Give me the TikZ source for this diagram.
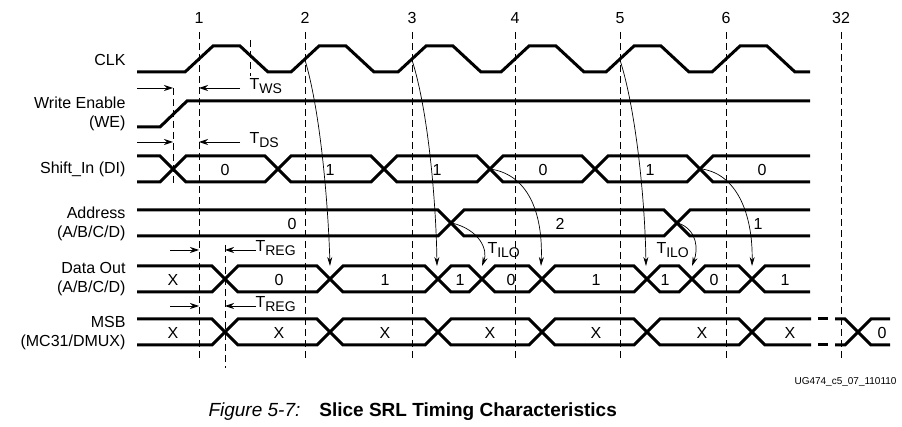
\documentclass[tikz,border=0pt]{standalone}
\usepackage{fontspec}
\setmainfont{Liberation Sans}
\usetikzlibrary{arrows.meta}
\newcommand{\hw}{13}
\newcommand{\segb}[4]{\draw[sig] (#1,{(#3+#4)/2}) -- (#1+\hw,#3) -- (#2-\hw,#3) -- (#2,{(#3+#4)/2}) -- (#2-\hw,#4) -- (#1+\hw,#4) -- cycle;}
\newcommand{\lsegb}[4]{\draw[sig] (#1,#3) -- (#2-\hw,#3) -- (#2,{(#3+#4)/2}) -- (#2-\hw,#4) -- (#1,#4);}
\newcommand{\rsegb}[4]{\draw[sig] (#2,#3) -- (#1+\hw,#3) -- (#1,{(#3+#4)/2}) -- (#1+\hw,#4) -- (#2,#4);}
\newcommand{\tsub}[1]{T\raisebox{-4pt}{\fontsize{14}{16}\selectfont #1}}
\tikzset{
 sig/.style={line width=3pt, line join=miter},
 grid/.style={line width=0.9pt, dash pattern=on 7pt off 4pt},
 lbl/.style={anchor=east, font=\fontsize{16}{19}\selectfont, align=right},
 val/.style={font=\fontsize{16}{18}\selectfont},
 num/.style={font=\fontsize{16}{18}\selectfont},
 tarr/.style={-{Stealth[length=9pt,width=6pt]}, line width=0.9pt},
 carr/.style={-{Stealth[length=9pt,width=5pt]}, line width=0.7pt},
}
\begin{document}
\begin{tikzpicture}[x=1pt,y=-1pt]
\useasboundingbox (0,0) rectangle (902,427);
% grid
\foreach \xx/\n in {199/1,305/2,412/3,515/4,620/5,726/6,841/32}{
  \node[num] (n\n) at (\xx,18) {\n};
  \draw[grid] (\xx,32) -- (\xx,358);}
\draw[grid] (173,88) -- (173,186);
\draw[grid] (225,245) -- (225,368);
\draw[grid] (250,40) -- (250,76);
% labels
\node[lbl] (lclk) at (129,60) {CLK};
\node[lbl] (lwe) at (129,114) {Write Enable\\(WE)};
\node[lbl] (ldi) at (129,169) {Shift\_In (DI)};
\node[lbl] (lad) at (129,224) {Address\\(A/B/C/D)};
\node[lbl] (ldo) at (129,279) {Data Out\\(A/B/C/D)};
\node[lbl] (lmsb) at (129,333) {MSB\\(MC31/DMUX)};
% CLK
\draw[sig] (137,72) -- (185,72) -- (213,46) -- (240,46) -- (268,72) -- (291,72)
 -- (319,46) -- (346,46) -- (374,72) -- (398,72)
 -- (426,46) -- (453,46) -- (481,72) -- (501,72)
 -- (529,46) -- (556,46) -- (584,72) -- (606,72)
 -- (634,46) -- (661,46) -- (689,72) -- (712,72)
 -- (740,46) -- (767,46) -- (795,72) -- (810,72);
% WE
\draw[sig] (137,127) -- (160,127) -- (187,101) -- (810,101);
% timing arrows
\draw[tarr] (137,88) -- (173,88);
\draw[tarr] (240,88) -- (199,88);
\node[val,anchor=west] (tws) at (246,86) {\tsub{WS}};
\draw[tarr] (137,142) -- (173,142);
\draw[tarr] (240,142) -- (199,142);
\node[val,anchor=west] (tds) at (246,140) {\tsub{DS}};
\draw[tarr] (170,250) -- (199,250);
\draw[tarr] (256,250) -- (225,250);
\node[val,anchor=west] (treg1) at (252,248) {\tsub{REG}};
\draw[tarr] (170,306) -- (199,306);
\draw[tarr] (256,306) -- (225,306);
\node[val,anchor=west] (treg2) at (252,304) {\tsub{REG}};
% DI
\lsegb{137}{173}{156}{182}
\segb{173}{278}{156}{182}\segb{278}{384}{156}{182}\segb{384}{490}{156}{182}
\segb{490}{595}{156}{182}\segb{595}{700}{156}{182}
\rsegb{700}{810}{156}{182}
\foreach \xx/\v in {225/0,330/1,437/1,543/0,650/1,762/0}{\node[val] at (\xx,170) {\v};}
% Address
\lsegb{137}{451}{210}{236}\segb{451}{677}{210}{236}\rsegb{677}{810}{210}{236}
\node[val] (a0) at (292,224) {0};
\node[val] (a2) at (560,224) {2};
\node[val] (a1) at (758,224) {1};
% Data out
\lsegb{137}{225}{266}{292}
\segb{225}{330}{266}{292}\segb{330}{438}{266}{292}\segb{438}{482}{266}{292}
\segb{482}{542}{266}{292}\segb{542}{647}{266}{292}\segb{647}{692}{266}{292}
\segb{692}{752}{266}{292}
\rsegb{752}{810}{266}{292}
\foreach \xx/\v in {173/X,279/0,385/1,460/1,511/0,596/1,665/1,714/0,785/1}{\node[val] at (\xx,280) {\v};}
% MSB
\lsegb{137}{225}{319}{345}
\segb{225}{330}{319}{345}\segb{330}{438}{319}{345}\segb{438}{542}{319}{345}
\segb{542}{647}{319}{345}\segb{647}{752}{319}{345}
\rsegb{752}{811}{319}{345}
\draw[sig] (818,319) -- (828,319) (818,345) -- (828,345);
\draw[sig] (835,319) -- (845,319) -- (871,345) -- (890,345);
\draw[sig] (835,345) -- (845,345) -- (871,319) -- (890,319);
\foreach \xx/\v in {173/X,279/X,385/X,490/X,596/X,702/X,790/X,882/0}{\node[val] at (\xx,333) {\v};}
% causal arrows
\draw[carr] (305,60) .. controls (320,110) and (328,200) .. (330,266);
\draw[carr] (412,60) .. controls (428,110) and (436,200) .. (437,266);
\draw[carr] (620,60) .. controls (636,110) and (645,200) .. (646,266);
\draw[carr] (490,169) .. controls (532,175) and (543,220) .. (541,266);
\draw[carr] (702,169) .. controls (740,175) and (753,220) .. (752,266);
\draw[carr] (452,223) .. controls (480,230) and (488,250) .. (482,266);
\draw[carr] (678,223) .. controls (698,230) and (698,250) .. (692,266);
\node[val,anchor=west] (tilo1) at (484,250) {\tsub{ILO}};
\node[val,anchor=west] (tilo2) at (653,250) {\tsub{ILO}};
% footer
\node[font=\fontsize{10}{12}\selectfont,anchor=east] (ug) at (900,382) {UG474\_c5\_07\_110110};
\node[font=\fontsize{19}{22}\selectfont,anchor=west] (cap) at (205,412) {\textit{Figure 5-7:}\quad\textbf{Slice SRL Timing Characteristics}};
\end{tikzpicture}
\end{document}
